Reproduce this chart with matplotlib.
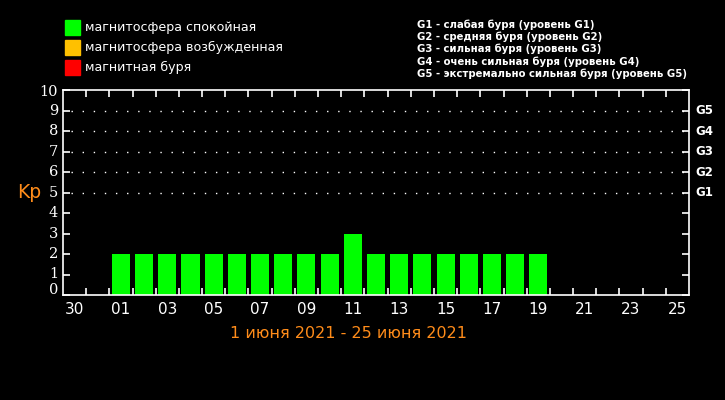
import matplotlib
matplotlib.use('Agg')
import matplotlib.pyplot as plt
import matplotlib.transforms as mtransforms
import numpy as np

# days shown on the axis: 30, 31 May and 1..25 June
days = ['30', '31'] + ['%02d' % d for d in range(1, 26)]
kp_values = [None, None] + [2, 2, 2, 2, 2, 2, 2, 2, 2, 2, 3, 2, 2, 2, 2, 2, 2, 2, 2] + [None] * 6
g_labels = ['G1', 'G2', 'G3', 'G4', 'G5']
g_levels = [5, 6, 7, 8, 9]
legend_left = ['магнитосфера спокойная', 'магнитосфера возбужденная', 'магнитная буря']
legend_colors = ['#00ff00', '#ffc000', '#ff0000']
legend_right = ['G1 - слабая буря (уровень G1)',
                'G2 - средняя буря (уровень G2)',
                'G3 - сильная буря (уровень G3)',
                'G4 - очень сильная буря (уровень G4)',
                'G5 - экстремально сильная буря (уровень G5)']
period = '1 июня 2021 - 25 июня 2021'

orange = '#ff8c1a'

fig = plt.figure(figsize=(7.25, 4), dpi=100, facecolor='black')
ax = fig.add_axes([63 / 725, 1 - 295 / 400, 626 / 725, 205 / 400], facecolor='black')

x = np.arange(len(days))
for i, v in enumerate(kp_values):
    if v is None:
        continue
    if v < 5:
        c = legend_colors[0]
    elif v < 6:
        c = legend_colors[1]
    else:
        c = legend_colors[2]
    ax.bar(x[i], v, width=0.78, color=c, zorder=3)

ax.set_xlim(-0.5, len(days) - 0.5)
ax.set_ylim(0, 10)

for s in ax.spines.values():
    s.set_color('white')
    s.set_linewidth(1.2)
    s.set_zorder(4)

# dotted grid for storm levels
for lv in g_levels:
    ax.plot([-0.15, len(days) - 0.7], [lv, lv], color='white', linestyle=(0, (1, 7)),
            linewidth=1, zorder=1)

# x ticks on day boundaries, labels every other day
ax.set_xticks(np.arange(0.5, len(days) - 1, 1))
ax.set_xticks(x[::2], minor=True)
ax.set_xticklabels([])
ax.set_xticklabels(days[::2], minor=True)
ax.tick_params(axis='x', which='major', direction='in', length=5, color='white',
               top=True, bottom=True, width=1.2)
ax.tick_params(axis='x', which='minor', length=0, colors='white', labelsize=11, pad=5)

ax.set_yticks(range(0, 11))
ax.set_yticklabels([])
ax.tick_params(axis='y', direction='in', length=5, colors='white',
               right=True, width=1.2)

# y labels drawn by hand so the end labels sit a little inside, as in the source
ytrans = mtransforms.blended_transform_factory(ax.transAxes, ax.transData)
for i in range(0, 11):
    off = 0
    if i == 0:
        off = 0.25
    elif i == 10:
        off = -0.12
    ax.text(-0.008, i + off, str(i), transform=ytrans, color='white', fontsize=10.5,
            family='DejaVu Serif', va='center', ha='right')

for lab, lv in zip(g_labels, g_levels):
    ax.text(len(days) - 0.5 + 0.28, lv, lab, color='white', fontsize=8.5,
            fontweight='bold', va='center', ha='left')

fig.text(17 / 725, 1 - 192 / 400, 'Kp', color=orange, fontsize=13.5, va='center', ha='left')
fig.text(348 / 725, 1 - 333 / 400, period, color=orange, fontsize=11.5, va='center', ha='center')

# legends
for i, (t, c) in enumerate(zip(legend_left, legend_colors)):
    y = 27 + i * 20
    fig.patches.append(plt.Rectangle((65 / 725, 1 - (y + 7.5) / 400), 15 / 725, 15 / 400,
                                     transform=fig.transFigure, color=c))
    fig.text(85 / 725, 1 - y / 400, t, color='white', fontsize=9.1, va='center', ha='left')

for i, t in enumerate(legend_right):
    y = 25 + i * 12.1
    fig.text(417 / 725, 1 - y / 400, t, color='white', fontsize=7.3, fontweight='bold',
             va='center', ha='left')

fig.savefig('out.png', dpi=100, facecolor='black')
